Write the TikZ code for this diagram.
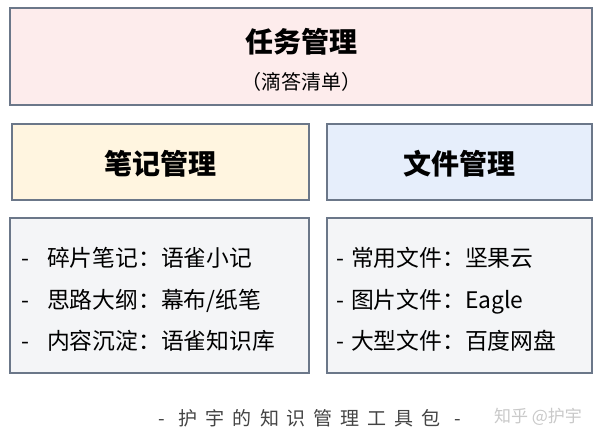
\documentclass[tikz,border=0pt]{standalone}
\usepackage{fontspec}
\setmainfont{Noto Sans CJK SC}
\definecolor{bordc}{HTML}{6B7789}
\definecolor{pinkc}{HTML}{FDECEC}
\definecolor{yelc}{HTML}{FFF5E0}
\definecolor{bluec}{HTML}{E6EEFB}
\definecolor{grayc}{HTML}{F4F5F7}
\definecolor{footc}{HTML}{444444}
\definecolor{wmc}{HTML}{C9C9C9}
\tikzset{
  box/.style={draw=bordc, line width=1.4pt, inner sep=0pt},
  head/.style={font=\fontsize{28}{32}\selectfont\bfseries, text=black},
  sub/.style={font=\fontsize{20}{24}\selectfont, text=black},
  item/.style={font=\fontsize{22.8}{26}\selectfont, text=black, anchor=base west, inner sep=0pt},
}
\begin{document}
\begin{tikzpicture}[x=1pt,y=-1pt]
\useasboundingbox[fill=white] (0,0) rectangle (600,446);
% boxes
\draw[box, fill=pinkc] (10,8) rectangle (592,105);
\draw[box, fill=yelc] (12,124) rectangle (309,200);
\draw[box, fill=bluec] (327,124) rectangle (592,200);
\draw[box, fill=grayc] (10,218) rectangle (309,373);
\draw[box, fill=grayc] (327,218) rectangle (592,373);
% headings
\node[head] (task) at (301,42) {任务管理};
\node[sub] (tasksub) at (301,82) {（滴答清单）};
\node[head] (note) at (160.5,164) {笔记管理};
\node[head] (file) at (459.5,164) {文件管理};
% left items
\node[item] (l1) at (21,267) {\makebox[26pt][l]{-}碎片笔记：语雀小记};
\node[item] (l2) at (21,308.5) {\makebox[26pt][l]{-}思路大纲：幕布/纸笔};
\node[item] (l3) at (21,350) {\makebox[26pt][l]{-}内容沉淀：语雀知识库};
% right items
\node[item] (r1) at (336,267) {\makebox[15pt][l]{-}常用文件：坚果云};
\node[item] (r2) at (336,308.5) {\makebox[15pt][l]{-}图片文件：Eagle};
\node[item] (r3) at (336,350) {\makebox[15pt][l]{-}大型文件：百度网盘};
% footer
\node[font=\fontsize{19}{22}\selectfont, text=footc] (foot) at (310,418)
  {-\hspace{14pt}护\hspace{8pt}宇\hspace{8pt}的\hspace{8pt}知\hspace{8pt}识\hspace{8pt}管\hspace{8pt}理\hspace{8pt}工\hspace{8pt}具\hspace{8pt}包\hspace{14pt}-};
\node[font=\fontsize{17}{20}\selectfont, text=wmc] (wm) at (538,417) {知乎 @护宇};
\end{tikzpicture}
\end{document}
